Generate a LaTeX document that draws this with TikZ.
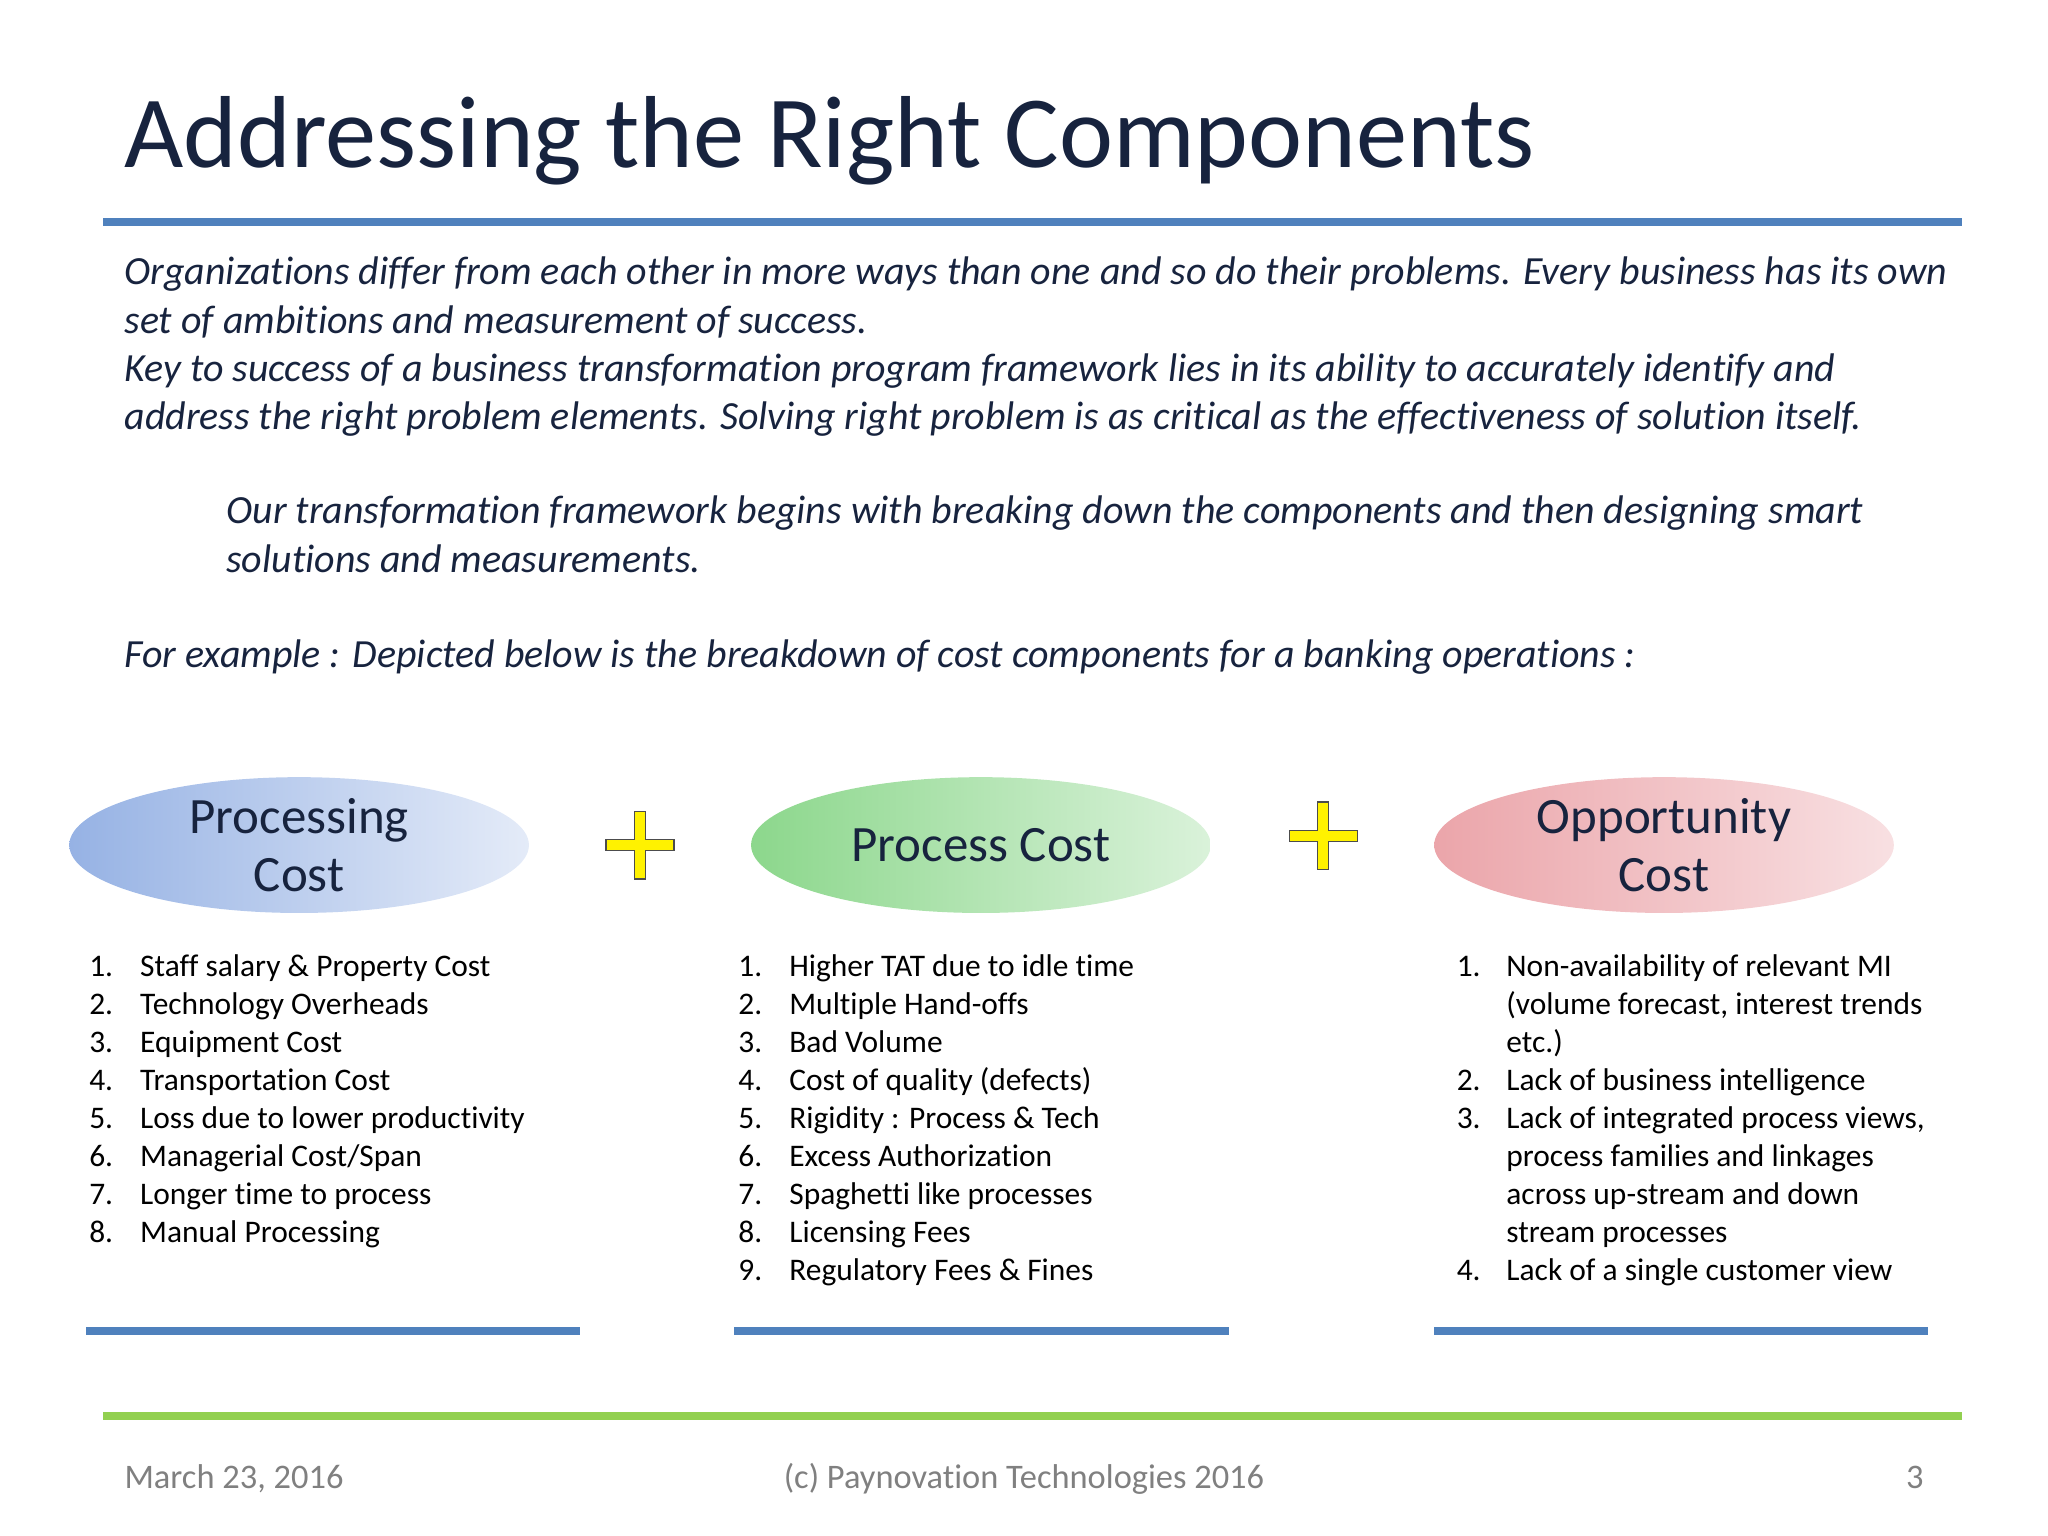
\documentclass[tikz,border=0pt]{standalone}
\usepackage{fontspec}
\setmainfont{Carlito}[Ligatures=NoCommon]
\begin{document}
\begin{tikzpicture}[x=0.02cm,y=-0.02cm,
  tx/.style={anchor=base west,inner sep=0,text=navy,font=\fontsize{17.4}{21}\selectfont\itshape},
  li/.style={anchor=base west,inner sep=0,font=\fontsize{13.7}{17}\selectfont},
  el/.style={ellipse,minimum width=7.04cm,minimum height=2.08cm,inner sep=0,align=center,text=navy,font=\fontsize{22.2}{25.5}\selectfont},
  bl/.style={line width=0.12cm,draw=barblue},
  plus/.style={draw=black!70,fill=yellow,line width=0.5pt},
  ft/.style={anchor=base,inner sep=0,text=gray,font=\fontsize{15}{18}\selectfont}]
\definecolor{navy}{RGB}{23,35,62}
\definecolor{barblue}{RGB}{79,129,189}
\definecolor{green1}{RGB}{146,208,80}
\usetikzlibrary{shapes.geometric}
\useasboundingbox (0,0) rectangle (1568,1176);
\node[anchor=base west,inner sep=0,text=navy,font=\fontsize{44.6}{50}\selectfont] (title) at (95,128) {Addressing the Right Components};
\draw[bl] (79,170) coordinate (t1) -- (1502,170) coordinate (t2);
\node[tx] (p1) at (95,218) {Organizations differ from each other in more ways than one and so do their problems. Every business has its own};
\node[tx] (p2) at (95,255) {set of ambitions and measurement of success.};
\node[tx] (p3) at (95,292) {Key to success of a business transformation program framework lies in its ability to accurately identify and};
\node[tx] (p4) at (95,329) {address the right problem elements. Solving right problem is as critical as the effectiveness of solution itself.};
\node[tx] (p5) at (173,401) {Our transformation framework begins with breaking down the components and then designing smart};
\node[tx] (p6) at (173,438) {solutions and measurements.};
\node[tx] (p7) at (95,511) {For example : Depicted below is the breakdown of cost components for a banking operations :};
\node[el,shading angle=-60,left color={rgb,255:red,150;green,178;blue,228},right color={rgb,255:red,228;green,235;blue,248}] (e1) at (229,647) {Processing\\Cost};
\node[el,left color={rgb,255:red,140;green,215;blue,140},right color={rgb,255:red,218;green,242;blue,218}] (e2) at (751,647) {Process Cost};
\node[el,left color={rgb,255:red,235;green,165;blue,170},right color={rgb,255:red,248;green,224;blue,226}] (e3) at (1274,647) {Opportunity\\Cost};
\foreach \n/\cx/\cy in {pa/490/647,pb/1013/640}{
  \draw[plus] (\cx-4,\cy-26) -- (\cx+4,\cy-26) -- (\cx+4,\cy-4) -- (\cx+26,\cy-4) -- (\cx+26,\cy+4) -- (\cx+4,\cy+4) -- (\cx+4,\cy+26) -- (\cx-4,\cy+26) -- (\cx-4,\cy+4) -- (\cx-26,\cy+4) -- (\cx-26,\cy-4) -- (\cx-4,\cy-4) -- cycle;
  \coordinate (\n) at (\cx,\cy);}
\foreach \i/\t in {1/{Staff salary \& Property Cost},2/{Technology Overheads},3/{Equipment Cost},4/{Transportation Cost},5/{Loss due to lower productivity},6/{Managerial Cost/Span},7/{Longer time to process},8/{Manual Processing}}{
  \node[li] (a\i) at (68,748+29*\i-29) {\i.};
  \node[li] (at\i) at (107,748+29*\i-29) {\t};}
\foreach \i/\t in {1/{Higher TAT due to idle time},2/{Multiple Hand-offs},3/{Bad Volume},4/{Cost of quality (defects)},5/{Rigidity : Process \& Tech},6/{Excess Authorization},7/{Spaghetti like processes},8/{Licensing Fees},9/{Regulatory Fees \& Fines}}{
  \node[li] (b\i) at (565,748+29*\i-29) {\i.};
  \node[li] (bt\i) at (604,748+29*\i-29) {\t};}
\foreach \n/\r in {1/0,2/3,3/4,4/8}{
  \node[li] (c\n) at (1115,748+29*\r) {\n.};}
\foreach \r/\t in {0/{Non-availability of relevant MI},1/{(volume forecast, interest trends},2/{etc.)},3/{Lack of business intelligence},4/{Lack of integrated process views,},5/{process families and linkages},6/{across up-stream and down},7/{stream processes},8/{Lack of a single customer view}}{
  \node[li] (ct\r) at (1153,748+29*\r) {\t};}
\draw[bl] (66,1019) coordinate (u1) -- (444,1019) coordinate (u2);
\draw[bl] (562,1019) coordinate (v1) -- (941,1019) coordinate (v2);
\draw[bl] (1098,1019) coordinate (w1) -- (1476,1019) coordinate (w2);
\draw[line width=0.12cm,draw=green1] (79,1084) coordinate (g1) -- (1502,1084) coordinate (g2);
\node[ft,anchor=base west] (f1) at (95,1140) {March 23, 2016};
\node[ft] (f2) at (784,1140) {(c) Paynovation Technologies 2016};
\node[ft,anchor=base east] (f3) at (1473,1140) {3};
\end{tikzpicture}
\end{document}
